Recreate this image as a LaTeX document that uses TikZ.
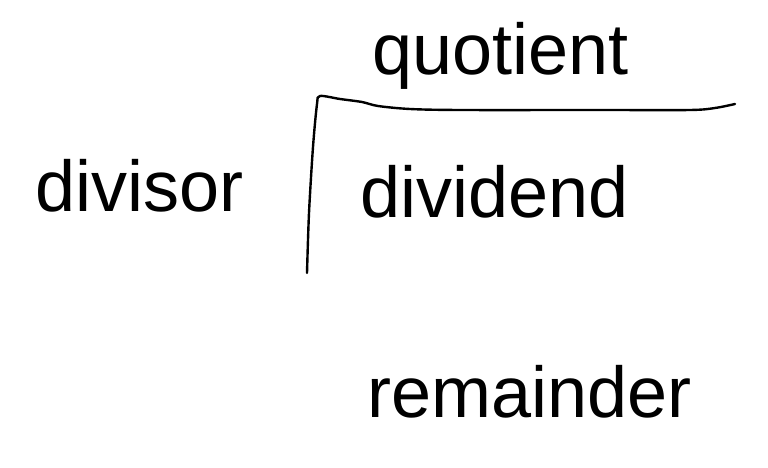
\documentclass[tikz,border=0pt]{standalone}
\usepackage{fontspec}
\setmainfont{Liberation Sans}
\usetikzlibrary{positioning}
\tikzstyle{word} = [
    anchor=base west,
    inner sep=0pt,
    font=\fontsize{72}{86}\selectfont]
\tikzstyle{bracket} = [
    draw,
    line width=2.4pt,
    line cap=round,
    line join=round]

\begin{document}
\begin{tikzpicture}[x=1pt,y=-1pt]
        \useasboundingbox (0,0) rectangle (768,468);

        \node[word] (divisor) at (35,211) {divisor};
        \node[word] (quotient) at (372,75) {quotient};
        \node[word] (dividend) at (360,217) {dividend};
        \node[word] (remainder) at (367,417) {remainder};

        % hand drawn bracket
        \coordinate (foot) at (307,273);
        \coordinate (corner) at (320,96);
        \coordinate (tip) at (735,104);
        \path[bracket] plot[smooth, tension=.5] coordinates {
            (foot) (309,213) (313,147) (317,104) (corner)
            (340,99) (362,102) (378,106) (410,109) (460,110)
            (600,110) (690,110) (715,108) (tip)};
    \end{tikzpicture}
\end{document}
